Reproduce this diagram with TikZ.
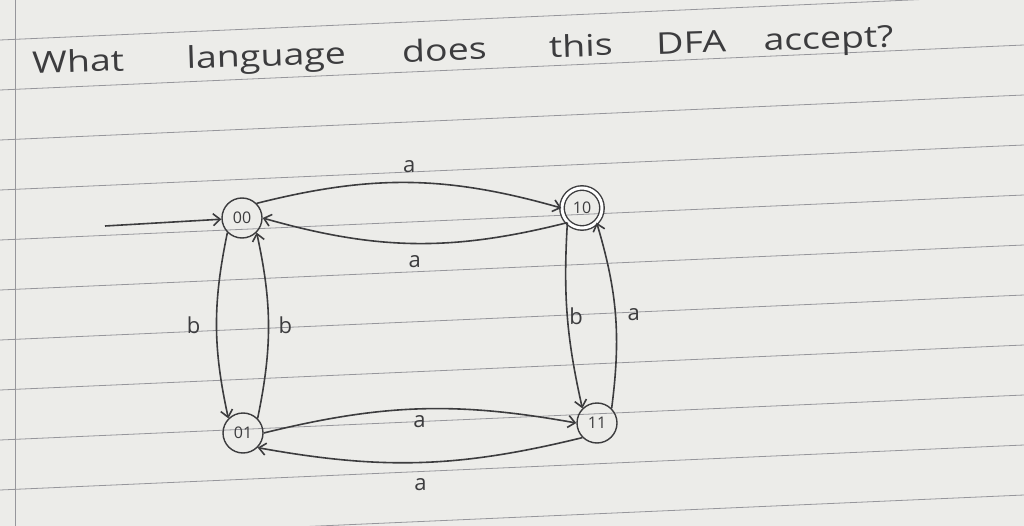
\documentclass[tikz,border=0pt]{standalone}
\usepackage{fontspec}
\setmainfont{Open Sans}
\usetikzlibrary{arrows.meta}
\definecolor{paper}{RGB}{236,236,233}
\definecolor{ink}{RGB}{60,60,62}
\definecolor{rule}{RGB}{150,150,155}
\begin{document}
\begin{tikzpicture}[x=1pt,y=-1pt,
  st/.style={circle,draw=ink,line width=1.4pt,minimum size=40pt,inner sep=0pt,text=ink,font=\fontsize{16}{18}\selectfont},
  acc/.style={st,double,double distance=3pt},
  tr/.style={draw=ink,line width=1.6pt,-{Straight Barb[length=7pt,width=12pt]}},
  lb/.style={text=ink,font=\fontsize{22}{24}\selectfont}]
\useasboundingbox (0,0) rectangle (1024,526);
\fill[paper] (0,0) rectangle (1024,526);
\foreach \k in {0,...,10} \draw[rule,line width=0.8pt] (0,{40+50*\k}) -- (1024,{-5+50*\k});
\draw[rule,line width=0.8pt] (15,0) -- (15,526);
\node[text=ink,font=\fontsize{30}{34}\selectfont,anchor=west,rotate=1.8,xscale=1.25] (t) at (28,66) {What\hspace{50pt}language\hspace{45pt}does\hspace{50pt}this\hspace{35pt}DFA\hspace{30pt}accept?};
\node[st] (q00) at (242,218) {00};
\node[acc] (q10) at (582,208) {10};
\node[st] (q01) at (243,433) {01};
\node[st] (q11) at (597,423) {11};
\coordinate (s) at (105,226);
\draw[tr] (s) -- (q00);
\draw[tr] (q00.north east) to[bend left=15] node[lb,above=6pt] {a} (q10.west);
\draw[tr] (q10.south west) to[bend left=15] node[lb,below=8pt] {a} (q00.east);
\draw[tr] (q00.south west) to[bend right=12] node[lb,left=12pt] {b} (q01.north west);
\draw[tr] (q01.north east) to[bend right=12] node[lb,right=6pt] {b} (q00.south east);
\draw[tr] (q10.south west) to[bend right=8] node[lb,right=-2pt] {b} (q11.north west);
\draw[tr] (q11.north east) to[bend right=12] node[lb,right=8pt] {a} (q10.south east);
\draw[tr] (q01.east) to[bend left=12] node[lb,below=2pt] {a} (q11.west);
\draw[tr] (q11.south west) to[bend left=12] node[lb,below=12pt] {a} (q01.south east);
\end{tikzpicture}
\end{document}
